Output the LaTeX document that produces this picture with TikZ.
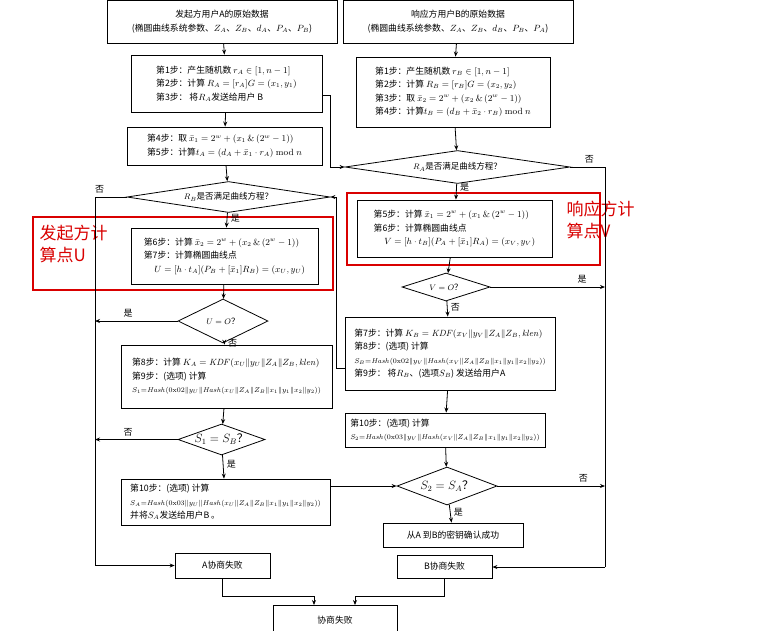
\documentclass[tikz,border=0pt]{standalone}
\usepackage[no-math]{fontspec}
\setmainfont{Noto Sans CJK SC}
\usetikzlibrary{shapes.geometric,arrows.meta}
\begin{document}
\begin{tikzpicture}[x=1pt,y=-1pt,
  box/.style={draw,thick,rectangle,inner sep=0pt,align=left,font=\fontsize{8.8}{13.5}\selectfont},
  dia/.style={draw,thick,diamond,inner sep=0pt,font=\fontsize{8.5}{10}\selectfont},
  lab/.style={font=\fontsize{9}{9}\selectfont},
  red/.style={draw=red!85!black,line width=2pt},
  redt/.style={text=red!85!black,font=\fontsize{17}{22}\selectfont,align=left},
  arr/.style={thick,-{Stealth[length=5pt,width=4pt]}},
  ln/.style={thick}]
\newcommand{\sm}[1]{{\fontsize{7.5}{10}\selectfont #1}}
\useasboundingbox (0,0) rectangle (767,630);
\fill[white] (0,0) rectangle (767,630);
% top boxes
\node[box,minimum width=230,minimum height=43,align=center] (a0) at (222,21.5) {发起方用户A的原始数据\\(椭圆曲线系统参数、$Z_A$、$Z_B$、$d_A$、$P_A$、$P_B$)};
\node[box,minimum width=230,minimum height=43,align=center] (b0) at (458,21.5) {响应方用户B的原始数据\\(椭圆曲线系统参数、$Z_A$、$Z_B$、$d_B$、$P_B$、$P_A$)};
\node[box,minimum width=191,minimum height=57] (a1) at (226.5,83.5) {第1步：产生随机数 $r_A\in[1,n-1]$\\第2步：计算 $R_A=[r_A]G=(x_1,y_1)$\\第3步： 将$R_A$发送给用户 B};
\node[box,minimum width=194,minimum height=70] (b1) at (453,92) {第1步：产生随机数 $r_B\in[1,n-1]$\\第2步：计算 $R_B=[r_B]G=(x_2,y_2)$\\第3步：取 $\bar{x}_2=2^w+(x_2\,\&\,(2^w-1))$\\第4步：计算$t_B=(d_B+\bar{x}_2\cdot r_B)\bmod n$};
\node[box,minimum width=195,minimum height=38] (a4) at (224.5,146) {第4步：取 $\bar{x}_1=2^w+(x_1\,\&\,(2^w-1))$\\第5步：计算$t_A=(d_A+\bar{x}_1\cdot r_A)\bmod n$};
\node[dia,minimum width=225,minimum height=33,aspect=6.8] (ra) at (457.5,167) {$R_A$是否满足曲线方程？};
\node[dia,minimum width=203,minimum height=31,aspect=6.5] (rb) at (228.5,197) {$R_B$是否满足曲线方程？};
% red frames
\draw[red] (33,217) rectangle (333,290);
\node[redt,anchor=north west] (rtu) at (36,222) {发起方计\\算点U};
\draw[red] (347,193) rectangle (600,265);
\node[redt,anchor=north west] (rtv) at (563,198) {响应方计\\算点V};
\node[box,minimum width=187,minimum height=56] (a6) at (224.5,256) {第6步：计算 $\bar{x}_2=2^w+(x_2\,\&\,(2^w-1))$\\第7步：计算椭圆曲线点\\\hspace{1.2em}$U=[h\cdot t_A](P_B+[\bar{x}_1]R_B)=(x_U,y_U)$};
\node[box,minimum width=195,minimum height=57] (b5) at (454.5,228.5) {第5步：计算 $\bar{x}_1=2^w+(x_1\,\&\,(2^w-1))$\\第6步：计算椭圆曲线点\\\hspace{1.2em}$V=[h\cdot t_B](P_A+[\bar{x}_1]R_A)=(x_V,y_V)$};
\node[dia,minimum width=90,minimum height=44,aspect=2] (uo) at (223,321) {$U=O$？};
\node[dia,minimum width=88,minimum height=28,aspect=3.1] (vo) at (446,287) {$V=O$？};
\node[box,minimum width=211,minimum height=63] (a8) at (226.5,376.5) {第8步：计算 $K_A=\mathit{KDF}(x_U\|y_U\|Z_A\|Z_B,\mathit{klen})$\\第9步：(选项) 计算\\\sm{$S_1{=}\mathit{Hash}(\mathrm{0x02}\|y_U\|\mathit{Hash}(x_U\|Z_A\|Z_B\|x_1\|y_1\|x_2\|y_2))$}};
\node[box,minimum width=210,minimum height=73] (b7) at (450,353.5) {第7步：计算 $K_B=\mathit{KDF}(x_V\|y_V\|Z_A\|Z_B,\mathit{klen})$\\第8步：(选项) 计算\\\sm{$S_B{=}\mathit{Hash}(\mathrm{0x02}\|y_V\|\mathit{Hash}(x_V\|Z_A\|Z_B\|x_1\|y_1\|x_2\|y_2))$}\\第9步： 将$R_B$、(选项$S_B$) 发送给用户A};
\node[dia,minimum width=87,minimum height=31,aspect=2.8,font=\fontsize{11.5}{12}\selectfont] (s1) at (221.5,439.5) {$S_1=S_B$？};
\node[box,minimum width=200,minimum height=34] (b10) at (445,430) {第10步：(选项) 计算\\\sm{$S_2{=}\mathit{Hash}(\mathrm{0x03}\|y_V\|\mathit{Hash}(x_V\|Z_A\|Z_B\|x_1\|y_1\|x_2\|y_2))$}};
\node[box,minimum width=209,minimum height=46] (a10) at (225.5,502) {第10步：(选项) 计算\\\sm{$S_A{=}\mathit{Hash}(\mathrm{0x03}\|y_U\|\mathit{Hash}(x_U\|Z_A\|Z_B\|x_1\|y_1\|x_2\|y_2))$}\\并将$S_A$发送给用户B 。};
\node[dia,minimum width=100,minimum height=38,aspect=2.6,font=\fontsize{11.5}{12}\selectfont] (s2) at (447,486) {$S_2=S_A$？};
\node[box,minimum width=140,minimum height=24,align=center] (ok) at (453,535) {从A 到B的密钥确认成功};
\node[box,minimum width=95,minimum height=25,align=center] (fa) at (222.5,565.5) {A协商失败};
\node[box,minimum width=95,minimum height=23,align=center] (fb) at (444.5,566.5) {B协商失败};
\node[box,minimum width=124,minimum height=30,align=center] (f) at (335,620) {协商失败};
% coordinates
\coordinate (L) at (95,0);
\coordinate (R) at (605,0);
% connectors
\draw[arr] (a0) -- (a1);
\draw[arr] (b0) -- (b1);
\draw[arr] (a1) -- (a4);
\draw[arr] (b1) -- (ra);
\draw[arr] (a4) -- (rb);
\draw[arr] (a1.east|-0,95) -- (330,95) -- (330,167) -- (ra.west);
\draw[arr] (ra) -- node[lab,pos=0.25,right] {是} (b5);
\draw[ln] (ra.east) -- node[lab,above,pos=0.55] {否} (R|-ra.east) -- (R|-0,567);
\draw[arr] (R|-0,567) -- (fb.east|-0,567);
\draw[arr] (rb) -- node[lab,pos=0.4,right] {是} (a6);
\draw[ln] (rb.west) -- node[lab,above,pos=0.85] {否} (L|-rb.west) -- (L|-0,565.5);
\draw[arr] (L|-0,565.5) -- (fa.west);
\draw[arr] (b7.west|-0,368) -- (336,368) -- (336,197) -- (rb.east);
\draw[arr] (a6) -- (uo);
\draw[arr] (uo.west) -- node[lab,above,pos=0.6] {是} (L|-uo.west);
\draw[arr] (uo) -- node[lab,pos=0.35,right] {否} (a8);
\draw[arr] (b5) -- (vo);
\draw[arr] (vo.east) -- node[lab,above,pos=0.8] {是} (R|-vo.east);
\draw[arr] (vo) -- node[lab,pos=0.4,right] {否} (b7);
\draw[arr] (a8) -- (s1);
\draw[arr] (s1.west) -- node[lab,above,pos=0.6] {否} (L|-s1.west);
\draw[arr] (s1) -- node[lab,pos=0.4,right] {是} (a10);
\draw[arr] (b7) -- (b10);
\draw[arr] (b10) -- (s2);
\draw[arr] (a10.east|-s2.west) -- (s2.west);
\draw[arr] (s2.east) -- node[lab,above,pos=0.8] {否} (R|-s2.east);
\draw[arr] (s2) -- node[lab,pos=0.4,right] {是} (ok);
\draw[arr] (fa.south) -- (fa.south|-0,596) -- (314,596) -- (314,605);
\draw[arr] (fb.south) -- (fb.south|-0,596) -- (355,596) -- (355,605);
\end{tikzpicture}
\end{document}
